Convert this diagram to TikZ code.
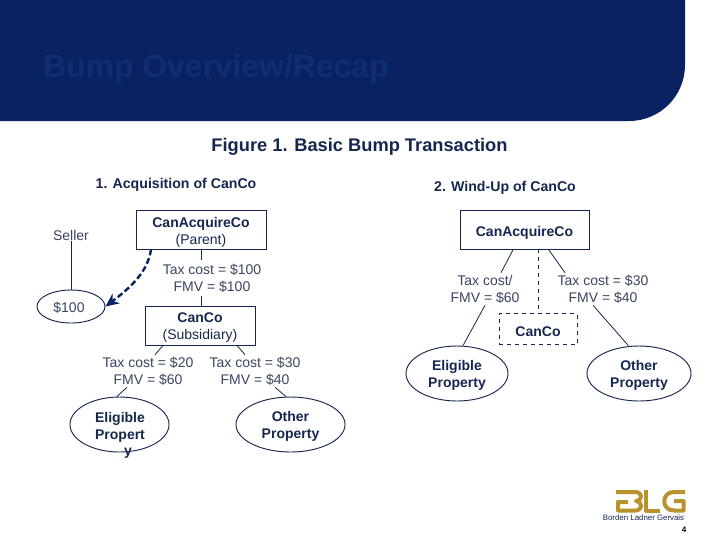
\documentclass[tikz,border=0pt]{standalone}
\usepackage{fontspec}
\setmainfont{Liberation Sans}
\usetikzlibrary{shapes.geometric,arrows.meta}
\definecolor{navy}{HTML}{0A2261}
\definecolor{titlenavy}{HTML}{102F72}
\definecolor{ink}{HTML}{16274F}
\definecolor{soft}{HTML}{3A4560}
\definecolor{gold}{HTML}{B8922A}
\newcommand\dropline{\rule{0pt}{10.6pt}}
\newcommand\dropmore{\rule{0pt}{12pt}}
\tikzset{
  x=0.75pt,y=-0.75pt,
  boxed/.style={draw=ink,line width=0.7pt,fill=white,rectangle,inner sep=0pt,align=center,text=ink,font=\fontsize{10.5}{12.8}\selectfont},
  oval/.style={draw=ink,line width=0.7pt,ellipse,inner sep=0pt,align=center,text=ink,font=\fontsize{10.5}{12.8}\selectfont\bfseries},
  lbl/.style={inner sep=0pt,align=center,text=soft,font=\fontsize{10.5}{12.8}\selectfont},
  head/.style={inner sep=0pt,text=ink,font=\fontsize{10.6}{12}\selectfont\bfseries},
  conn/.style={draw=ink,line width=0.6pt},
}
\begin{document}
\begin{tikzpicture}
\useasboundingbox (0,0) rectangle (720,540);
\fill[white] (0,0) rectangle (720,540);
% banner
\fill[navy] (0,0) -- (685,0) -- (685,65) .. controls (685,96) and (660,121) .. (629,121) -- (0,121) -- cycle;
\node[inner sep=0pt,anchor=west,text=titlenavy,font=\fontsize{23.9}{26}\selectfont\bfseries] (bt) at (43,69) {Bump Overview/Recap};
\node[inner sep=0pt,text=ink,font=\fontsize{13.7}{15}\selectfont\bfseries] (ft) at (359.5,146.5) {Figure 1.  Basic Bump Transaction};
\node[head] (h1) at (176,185) {1.  Acquisition of CanCo};
\node[head] (h2) at (505,188) {2.  Wind-Up of CanCo};

% left diagram
\node[boxed,minimum width=97.5pt,minimum height=29.25pt] (parent) at (201,229.5) {\dropmore\textbf{CanAcquireCo}\\(Parent)};
\node[boxed,minimum width=82.5pt,minimum height=29.25pt] (canco) at (200,325.5) {\dropline\textbf{CanCo}\\(Subsidiary)};
\node[lbl,text height=6.5pt] (seller) at (71,236) {Seller};
\node[draw=ink,line width=0.7pt,ellipse,inner sep=0pt,minimum width=51pt,minimum height=24.75pt,text=soft,font=\fontsize{10.5}{12}\selectfont] (cash) at (71,306.5) {\hspace*{-3pt}\rule{0pt}{9.4pt}\$100};
\node[lbl,minimum height=27pt] (tax1) at (212,278) {Tax cost = \$100\\FMV = \$100};
\node[lbl,minimum height=24pt] (tax20) at (148,371) {Tax cost = \$20\\FMV = \$60};
\node[lbl,minimum height=24pt] (tax30) at (255,371) {Tax cost = \$30\\FMV = \$40};
\node[oval,minimum width=74.25pt,minimum height=41.25pt] (elig) at (119.5,424.5) {};
\node[inner sep=0pt,align=center,text=ink,font=\fontsize{10.5}{12.2}\selectfont\bfseries] (eligt) at (120,435.5) {Eligible\\Propert\\\hspace*{12pt}y};
\node[oval,minimum width=81.75pt,minimum height=41.25pt] (other) at (290.5,424.5) {\dropline Other\\Property};

\draw[conn] (parent.south) -- (parent.south |- tax1.north);
\draw[conn] (parent.south |- tax1.south) -- (canco.north -| parent.south);
\draw[conn] (seller.south -| cash.north) -- (cash.north);
\draw[conn] ([xshift=-27.75pt]canco.south) -- ([xshift=5.25pt]tax20.north);
\draw[conn] ([xshift=27.75pt]canco.south) -- ([xshift=-7.5pt]tax30.north);
\draw[conn] ([xshift=-15.75pt]tax20.south) -- ([xshift=-2pt]elig.north);
\draw[conn] ([xshift=15pt]tax30.south) -- ([xshift=-3.5pt]other.north);
\draw[navy,line width=1.8pt,dash pattern=on 4.5pt off 2.2pt,-{Stealth[length=10pt,width=9pt]}] ([xshift=-37.5pt]parent.south) .. controls (148,270) and (134,285) .. (cash.east);

% right diagram
\node[boxed,minimum width=96.75pt,minimum height=29.25pt,font=\fontsize{10.5}{12.8}\selectfont\bfseries] (acq) at (524.5,229.5) {\dropmore CanAcquireCo};
\node[boxed,dashed,minimum width=58.5pt,minimum height=23.25pt,font=\fontsize{10.5}{12.8}\selectfont\bfseries] (can2) at (538,329) {\dropline CanCo};
\node[lbl,minimum height=24pt] (rtax1) at (485,289) {Tax cost/\\FMV = \$60};
\node[lbl,minimum height=24pt] (rtax2) at (603,289) {Tax cost = \$30\\FMV = \$40};
\node[oval,minimum width=76.5pt,minimum height=41.25pt] (relig) at (457,373.5) {\dropline Eligible\\Property};
\node[oval,minimum width=78pt,minimum height=41.25pt] (rother) at (639,373.5) {\dropline Other\\Property};

\draw[conn] ([xshift=-8.5pt]acq.south) -- ([xshift=12pt]rtax1.north);
\draw[conn] ([xshift=18pt]acq.south) -- ([xshift=-28.5pt]rtax2.north);
\draw[conn,dashed] (acq.south -| can2.north) -- (can2.north);
\draw[conn] (rtax1.south) -- ([xshift=4.5pt]relig.north);
\draw[conn] ([xshift=-7.5pt]rtax2.south) -- ([xshift=-8pt]rother.north);

% logo
\begin{scope}[gold,line width=3pt,line join=round]
\draw (616,492) -- (635,492) .. controls (643,492) and (643,500) .. (636,501) .. controls (643,502) and (643,510.5) .. (635,510.5) -- (618,510.5) -- (618,502) -- (628,502);
\draw (646,490) -- (646,510.5) -- (660,510.5);
\draw (685,492) -- (674,492) .. controls (661,492) and (661,510.5) .. (674,510.5) -- (683.5,510.5) -- (683.5,501) -- (674,501);
\end{scope}
\node[inner sep=0pt,text=ink,font=\fontsize{5.9}{7}\selectfont] (blg) at (643.5,518) {Borden Ladner Gervais};
\node[inner sep=0pt,text=black,font=\fontsize{6}{7}\selectfont\bfseries] (pg) at (684,530) {4};
\end{tikzpicture}
\end{document}
